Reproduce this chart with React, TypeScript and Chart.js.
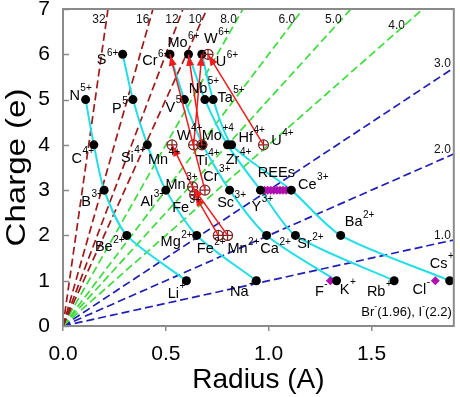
import React, { useEffect, useRef } from "react";
import { Chart, registerables } from "chart.js";
Chart.register(...registerables);

const FONT = "'Liberation Sans', Arial, sans-serif";

// axis
const xMin = 0;
const xMax = 1.9;
const yMin = 0;
const yMax = 7;
const xTickValues = [0, 0.5, 1.0, 1.5];
const yTickValues = [0, 1, 2, 3, 4, 5, 6, 7];
const xTitle = "Radius (A)";
const yTitle = "Charge (e)";

// ionic potential reference lines (Z/r)
const redSlopes = [32, 16, 12, 10];
const redSlopeLabels = ["32", "16", "12", "10"];
const greenSlopes = [8, 6, 5, 4];
const greenSlopeLabels = ["8.0", "6.0", "5.0", "4.0"];
const blueSlopes = [3, 2, 1];
const blueSlopeLabels = ["3.0", "2.0", "1.0"];

// isoelectronic series (cyan)
const heIons = ["N5+", "C4+", "B3+", "Be2+", "Li+"];
const heRadii = [0.11, 0.15, 0.2, 0.31, 0.6];
const heCharges = [5, 4, 3, 2, 1];

const neIons = ["S6+", "P5+", "Si4+", "Al3+", "Mg2+", "Na+"];
const neRadii = [0.29, 0.34, 0.41, 0.5, 0.65, 0.94];
const neCharges = [6, 5, 4, 3, 2, 1];

const arIons = ["Cr6+", "V5+", "Ti4+", "Sc3+", "Ca2+", "K+"];
const arRadii = [0.52, 0.59, 0.68, 0.81, 0.99, 1.33];
const arCharges = [6, 5, 4, 3, 2, 1];

const krIons = ["Mo6+", "Nb5+", "Zr4+", "Y3+", "Sr2+", "Rb+"];
const krRadii = [0.61, 0.69, 0.8, 0.96, 1.13, 1.61];
const krCharges = [6, 5, 4, 3, 2, 1];

const xeIons = ["W6+", "Ta5+", "Hf4+", "Ce3+", "Ba2+", "Cs+"];
const xeRadii = [0.675, 0.73, 0.82, 1.11, 1.35, 1.88];
const xeCharges = [6, 5, 4, 3, 2, 1];

// multi-valent ions (crossed circles)
const tmIons = ["U6+", "Mn4+", "W4+", "Mo+4", "U4+", "Mn3+", "Fe3+", "Cr3+", "Fe2+", "Mn2+"];
const tmRadii = [0.705, 0.53, 0.635, 0.675, 0.975, 0.63, 0.64, 0.69, 0.755, 0.8];
const tmCharges = [6, 4, 4, 4, 4, 3.07, 2.9, 3, 2, 2];

// anions & REEs (magenta diamonds)
const anionIons = ["F-", "Cl-"];
const anionRadii = [1.3, 1.81];
const anionCharges = [1, 1];
const reeRadii = [0.98, 0.995, 1.01, 1.025, 1.04, 1.055, 1.07, 1.085];
const reeCharge = 3;

// valence change arrows
const arrowFrom = ["Mn2+", "Fe2+", "Mn3+", "Cr3+", "Mo+4", "W4+", "U4+"];
const arrowTo = ["Mn3+", "Fe3+", "Mn4+", "Cr6+", "Mo6+", "W6+", "U6+"];

// label placement (pixel offsets of label centre from marker)
const labelOffsets: Record<string, [number, number]> = {
  "N5+": [-11, -4], "S6+": [-21, 6], "Cr6+": [-20, 7], "Mo6+": [-11, -11], "W6+": [9, -15], "U6+": [13, 8],
  "P5+": [-16, 9], "V5+": [-14, 8], "Nb5+": [-7, -11], "Ta5+": [12, -2],
  "C4+": [-17, 14], "Si4+": [-20, 13], "Mn4+": [-14, 15], "W4+": [-10, -9], "Mo+4": [10, -9], "Ti4+": [-1, 16],
  "Hf4+": [14, -7], "Zr4+": [5, 15], "U4+": [13, -4],
  "B3+": [-18, 12], "Al3+": [-19, 12], "Mn3+": [-17, -2], "Fe3+": [-14, 13], "Cr3+": [6, -13], "Sc3+": [-4, 13],
  "Y3+": [-4, 17], "Ce3+": [16, -5],
  "Be2+": [-23, 12], "Mg2+": [-26, 7], "Fe2+": [-13, 14], "Mn2+": [10, 14], "Ca2+": [3, 14], "Sr2+": [9, 9], "Ba2+": [13, -13],
  "Li+": [-13, 13], "Na+": [-17, 11], "F-": [-11, 11], "K+": [8, 9], "Rb+": [-18, 11], "Cl-": [-16, 9], "Cs+": [-11, -17],
};

const C_RED = "#9e1a1a";
const C_GREEN = "#3ddc3d";
const C_BLUE = "#1f1fb4";
const C_CYAN = "#22dfe6";
const C_ARROW = "#ef1c1c";
const C_TM = "#7a2222";
const C_MAG = "#b010b0";
const C_FRAME = "#8a8a8a";

const pts = (r: number[], c: number[]) => r.map((v, i) => ({ x: v, y: c[i] }));

const ionPos: Record<string, { x: number; y: number }> = {};
[
  [heIons, heRadii, heCharges],
  [neIons, neRadii, neCharges],
  [arIons, arRadii, arCharges],
  [krIons, krRadii, krCharges],
  [xeIons, xeRadii, xeCharges],
  [tmIons, tmRadii, tmCharges],
  [anionIons, anionRadii, anionCharges],
].forEach(([names, r, c]: any) => {
  (names as string[]).forEach((n, i) => (ionPos[n] = { x: r[i], y: c[i] }));
});

function refLine(s: number, color: string) {
  const xe = Math.min(yMax / s, xMax);
  return {
    data: [{ x: 0, y: 0 }, { x: xe, y: s * xe }],
    showLine: true,
    borderColor: color,
    borderWidth: 1.7,
    borderDash: [8, 4],
    pointRadius: 0,
    order: 10,
  };
}

const overlay = {
  id: "overlay",
  afterDatasetsDraw(chart: any) {
    const { ctx, chartArea: a, scales } = chart;
    const xs = scales.x;
    const ys = scales.y;
    ctx.save();
    ctx.beginPath();
    ctx.rect(a.left, a.top, a.right - a.left, a.bottom - a.top);
    ctx.clip();

    // arrowheads
    ctx.fillStyle = C_ARROW;
    arrowFrom.forEach((f, i) => {
      const p0 = ionPos[f];
      const p1 = ionPos[arrowTo[i]];
      const x0 = xs.getPixelForValue(p0.x), y0 = ys.getPixelForValue(p0.y);
      const x1 = xs.getPixelForValue(p1.x), y1 = ys.getPixelForValue(p1.y);
      const ang = Math.atan2(y1 - y0, x1 - x0);
      const tx = x1 - Math.cos(ang) * 1.5, ty = y1 - Math.sin(ang) * 1.5;
      const L = 10, W = 4;
      const bx = tx - Math.cos(ang) * L, by = ty - Math.sin(ang) * L;
      ctx.beginPath();
      ctx.moveTo(tx, ty);
      ctx.lineTo(bx + Math.sin(ang) * W, by - Math.cos(ang) * W);
      ctx.lineTo(bx - Math.sin(ang) * W, by + Math.cos(ang) * W);
      ctx.closePath();
      ctx.fill();
    });

    // slope labels
    ctx.fillStyle = "#111";
    ctx.font = `12px ${FONT}`;
    ctx.textAlign = "right";
    ctx.textBaseline = "alphabetic";
    const topSlopes = [...redSlopes, ...greenSlopes];
    const topLabels = [...redSlopeLabels, ...greenSlopeLabels];
    topSlopes.forEach((s, i) => {
      const extra = s === 4 ? 6 : 0;
      const yv = ys.getValueForPixel(a.top + 9 + extra);
      const px = xs.getPixelForValue(yv / s);
      ctx.fillText(topLabels[i], px - 1, a.top + 14 + extra);
    });
    blueSlopes.forEach((s, i) => {
      const py = ys.getPixelForValue(s * xMax);
      ctx.fillText(blueSlopeLabels[i], a.right - 3, py - 1);
    });

    // ion labels
    ctx.fillStyle = "#000";
    Object.keys(labelOffsets).forEach((name) => {
      const p = ionPos[name];
      if (!p) return;
      const [dx, dy] = labelOffsets[name];
      const cx = xs.getPixelForValue(p.x) + dx;
      const cy = ys.getPixelForValue(p.y) + dy;
      const m = name.match(/^([A-Z][a-z]*)(.*)$/)!;
      ctx.font = `14.5px ${FONT}`;
      ctx.textAlign = "center";
      ctx.textBaseline = "middle";
      ctx.fillText(m[1], cx, cy);
      const w = ctx.measureText(m[1]).width;
      ctx.font = `10px ${FONT}`;
      ctx.textAlign = "left";
      ctx.fillText(m[2], cx + w / 2 + 0.5, cy - 7.5);
    });
    // REEs
    {
      const mid = (reeRadii[0] + reeRadii[reeRadii.length - 1]) / 2;
      ctx.font = `14.5px ${FONT}`;
      ctx.textAlign = "center";
      ctx.textBaseline = "middle";
      ctx.fillText("REEs", xs.getPixelForValue(mid) + 1, ys.getPixelForValue(reeCharge) - 17);
    }
    // note
    {
      const parts: [string, boolean][] = [["Br", false], ["-", true], ["(1.96), I", false], ["-", true], ["(2.2)", false]];
      const fMain = `13px ${FONT}`, fSup = `9px ${FONT}`;
      let total = 0;
      parts.forEach(([t, sup]) => { ctx.font = sup ? fSup : fMain; total += ctx.measureText(t).width; });
      let x = a.right - 2 - total;
      const y = a.bottom - 14;
      ctx.textAlign = "left";
      ctx.textBaseline = "middle";
      parts.forEach(([t, sup]) => {
        ctx.font = sup ? fSup : fMain;
        ctx.fillText(t, x, sup ? y - 5 : y);
        x += ctx.measureText(t).width;
      });
    }
    ctx.restore();
  },
  afterDraw(chart: any) {
    const { ctx, chartArea: a, scales } = chart;
    ctx.save();
    ctx.strokeStyle = C_FRAME;
    ctx.lineWidth = 2;
    ctx.strokeRect(a.left, a.top, a.right - a.left, a.bottom - a.top);
    ctx.lineWidth = 1.5;
    ctx.beginPath();
    yTickValues.forEach((v) => {
      const py = Math.round(scales.y.getPixelForValue(v)) + 0.5;
      ctx.moveTo(a.left, py);
      ctx.lineTo(a.left + 6, py);
    });
    ctx.stroke();
    // y-axis title (stretched along its length like the original)
    ctx.translate(17, (a.top + a.bottom) / 2);
    ctx.rotate(-Math.PI / 2);
    ctx.scale(1.18, 1);
    ctx.fillStyle = "#000";
    ctx.font = `28px ${FONT}`;
    ctx.textAlign = "center";
    ctx.textBaseline = "middle";
    ctx.fillText(yTitle, 0, 0);
    ctx.restore();
  },
};

export default function App() {
  const ref = useRef<HTMLCanvasElement>(null);
  useEffect(() => {
    const canvas = ref.current!;
    const cyan = (r: number[], c: number[]) => ({
      data: pts(r, c),
      showLine: true,
      borderColor: C_CYAN,
      borderWidth: 2,
      tension: 0.25,
      pointRadius: 0,
      order: 5,
    });
    const datasets: any[] = [
      ...redSlopes.map((s) => refLine(s, C_RED)),
      ...greenSlopes.map((s) => refLine(s, C_GREEN)),
      ...blueSlopes.map((s) => refLine(s, C_BLUE)),
      cyan(heRadii, heCharges),
      cyan(neRadii, neCharges),
      cyan(arRadii, arCharges),
      cyan(krRadii, krCharges),
      cyan(xeRadii, xeCharges),
      {
        data: [
          ...pts(heRadii, heCharges),
          ...pts(neRadii, neCharges),
          ...pts(arRadii, arCharges),
          ...pts(krRadii, krCharges),
          ...pts(xeRadii, xeCharges),
        ],
        pointRadius: 4.5,
        pointBackgroundColor: "#000",
        pointBorderColor: "#000",
        pointBorderWidth: 0,
        order: 2,
      },
      {
        data: [...pts(anionRadii, anionCharges), ...reeRadii.map((r) => ({ x: r, y: reeCharge }))],
        pointStyle: "rectRot",
        pointRadius: 4.5,
        pointBackgroundColor: C_MAG,
        pointBorderColor: C_MAG,
        pointBorderWidth: 0,
        order: 2,
      },
      {
        data: pts(tmRadii, tmCharges),
        pointStyle: "circle",
        pointRadius: 5,
        pointBackgroundColor: "rgba(255,255,255,0)",
        pointBorderColor: C_TM,
        pointBorderWidth: 1.2,
        order: 1,
      },
      {
        data: pts(tmRadii, tmCharges),
        pointStyle: "cross",
        pointRadius: 5,
        pointBorderColor: C_TM,
        pointBorderWidth: 1.2,
        order: 1,
      },
      ...arrowFrom.map((f, i) => ({
        data: [ionPos[f], ionPos[arrowTo[i]]],
        showLine: true,
        borderColor: C_ARROW,
        borderWidth: 1.5,
        pointRadius: 0,
        order: 0,
      })),
    ];

    const tickFont = { family: FONT, size: 21 };
    const chart = new Chart(canvas, {
      type: "scatter",
      data: { datasets },
      options: {
        animation: false,
        responsive: false,
        devicePixelRatio: 1,
        layout: { padding: { top: 9, right: 2, left: 0, bottom: 0 } },
        plugins: { legend: { display: false }, tooltip: { enabled: false } },
        scales: {
          x: {
            type: "linear",
            min: xMin,
            max: xMax,
            afterBuildTicks: (s: any) => { s.ticks = xTickValues.map((v) => ({ value: v })); },
            afterFit: (s: any) => { s.height = 71; s.paddingLeft = 0; s.paddingRight = 0; },
            ticks: { font: tickFont, color: "#000", padding: 11, callback: (v: any) => Number(v).toFixed(1) },
            grid: { drawOnChartArea: false, drawTicks: true, tickLength: 5, color: C_FRAME, lineWidth: 1.5 },
            border: { display: false },
            title: { display: true, text: xTitle, color: "#000", font: { family: FONT, size: 28 }, padding: { top: 0, bottom: 0 } },
          },
          y: {
            type: "linear",
            min: yMin,
            max: yMax,
            afterBuildTicks: (s: any) => { s.ticks = yTickValues.map((v) => ({ value: v })); },
            afterFit: (s: any) => { s.width = 63; s.paddingTop = 0; s.paddingBottom = 0; },
            ticks: { font: tickFont, color: "#000", padding: 13, callback: (v: any) => String(v) },
            grid: { drawOnChartArea: false, drawTicks: false },
            border: { display: false },
            title: { display: false },
          },
        },
      } as any,
      plugins: [overlay],
    });
    return () => chart.destroy();
  }, []);
  return (
    <div>
      <style>{"body{margin:0}"}</style>
      <canvas ref={ref} width={460} height={397} style={{ display: "block" }} />
    </div>
  );
}
